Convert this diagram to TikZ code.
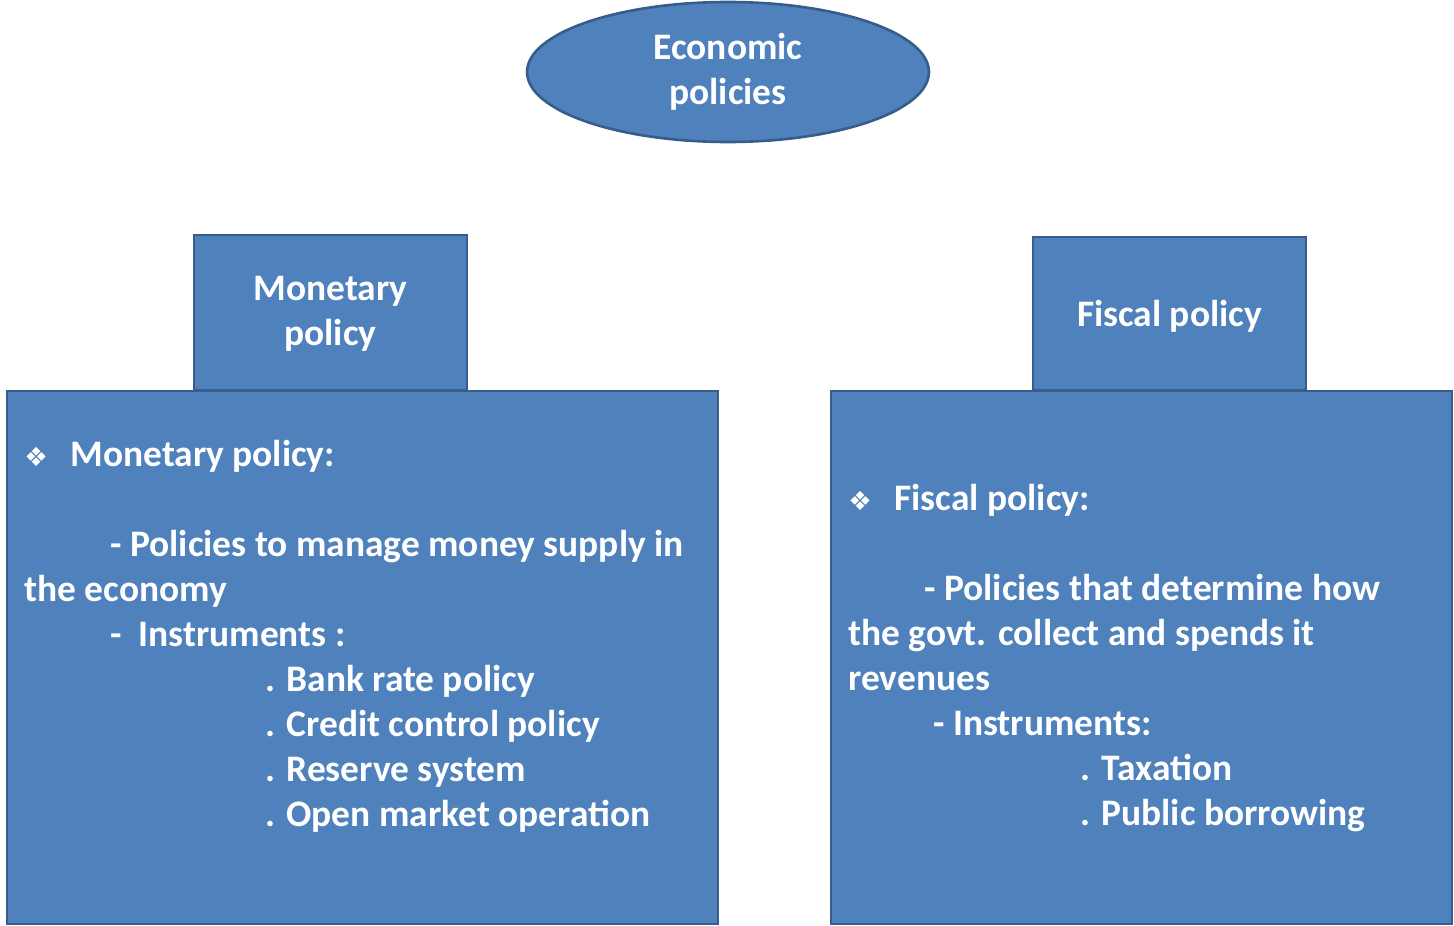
\documentclass[tikz,border=0pt]{standalone}
\usepackage{fontspec}
\setmainfont{Carlito}
\newfontfamily\symfont{DejaVu Sans}
\usetikzlibrary{shapes.geometric}
\newcommand{\bul}{{\symfont\fontsize{15}{15}\selectfont ❖}\hspace{0.45cm}}
\definecolor{boxfill}{HTML}{4F81BD}
\definecolor{boxline}{HTML}{385D8A}
\tikzset{
  panel/.style={draw=boxline, line width=1.5pt, fill=boxfill},
  caption/.style={text=white, font=\bfseries\fontsize{21.3}{25.6}\selectfont, align=center},
  body/.style={text=white, font=\bfseries\fontsize{21.3}{25.6}\selectfont, align=left, inner sep=0pt, anchor=north west}
}
\begin{document}
\begin{tikzpicture}[x=0.02cm, y=-0.02cm]
  \useasboundingbox (0,0) rectangle (1454,926);

  % top
  \node[panel, ellipse, minimum width=8.04cm, minimum height=2.8cm, caption] (econ) at (728,72) {Economic\\policies};

  % monetary side
  \draw[panel] (194,235) rectangle (467,390);
  \node[caption] (monhead) at (330.5,314) {Monetary\\policy};
  \draw[panel] (7,391) rectangle (718,924);
  \node[body] (montext) at (24,440) {\bul Monetary policy:\\[25.6pt]
    \hspace*{1.72cm}- Policies to manage money supply in\\
    the economy\\
    \hspace*{1.72cm}-\ \ Instruments :\\
    \hspace*{4.82cm}. Bank rate policy\\
    \hspace*{4.82cm}. Credit control policy\\
    \hspace*{4.82cm}. Reserve system\\
    \hspace*{4.82cm}. Open market operation};

  % fiscal side
  \draw[panel] (1033,237) rectangle (1306,390);
  \node[caption] (fischead) at (1169.5,316) {Fiscal policy};
  \draw[panel] (831,391) rectangle (1452,924);
  \node[body] (fistext) at (848,484) {\bul Fiscal policy:\\[25.6pt]
    \hspace*{1.52cm}- Policies that determine how\\
    the govt. collect and spends it\\
    revenues\\
    \hspace*{1.7cm}- Instruments:\\
    \hspace*{4.64cm}. Taxation\\
    \hspace*{4.64cm}. Public borrowing};
\end{tikzpicture}
\end{document}
